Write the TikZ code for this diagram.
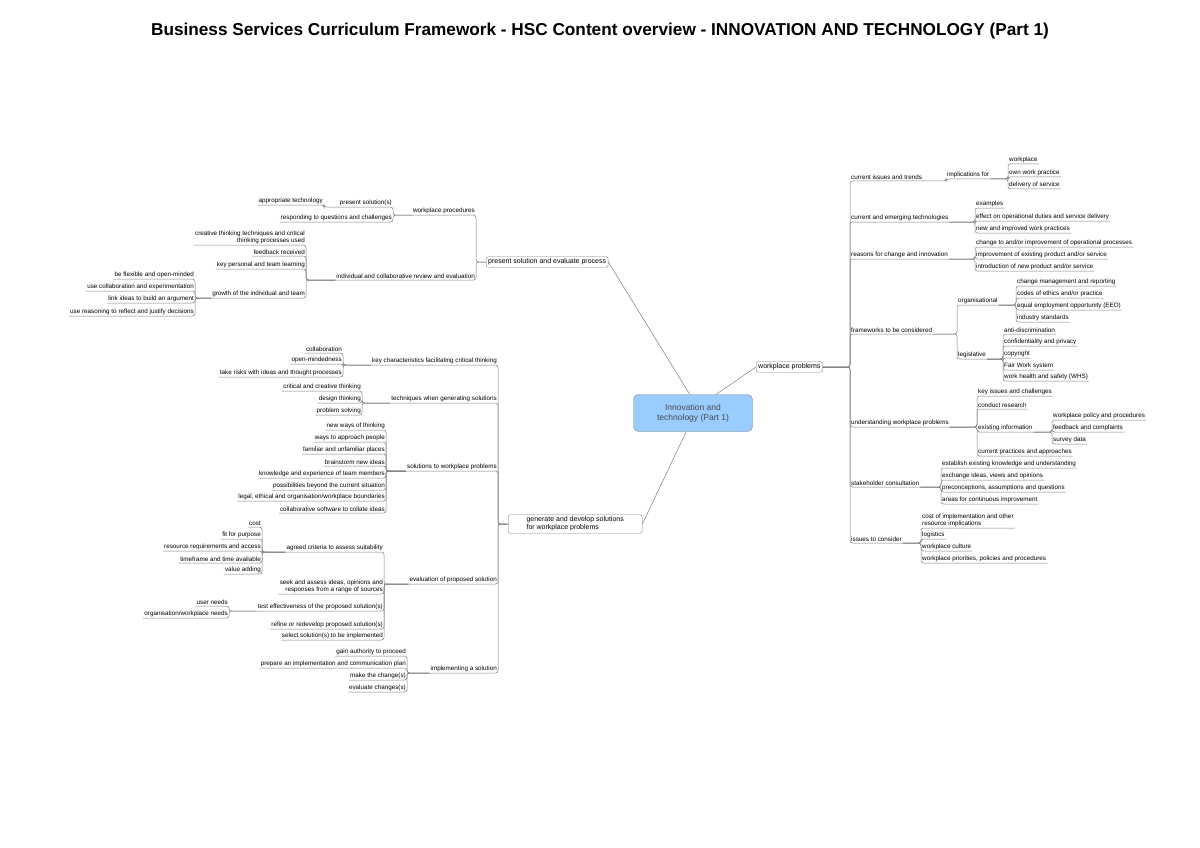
\documentclass[tikz,border=0pt]{standalone}
\usepackage{fontspec}
\setmainfont{Liberation Sans}
\begin{document}
\begin{tikzpicture}[x=1pt,y=-1pt,
    leafL/.style={anchor=south east,inner sep=1pt,font=\fontsize{6.3}{7}\selectfont,align=right},
    leafR/.style={anchor=south west,inner sep=1pt,font=\fontsize{6.3}{7}\selectfont,align=left},
    branch/.style={draw=gray,rounded corners=2pt,fill=white,inner sep=2pt,font=\fontsize{7}{8}\selectfont,align=left},
    link/.style={draw=gray,line width=0.5pt,rounded corners=2.5pt}]
\newcommand\lnL[2]{\draw[link] (#1.south west) -- (#1.south east) |- (#2);}
\newcommand\lnR[2]{\draw[link] (#1.south east) -- (#1.south west) |- (#2);}
\path[use as bounding box] (0,0) rectangle (1200,848);

% title
\node[font=\bfseries\fontsize{17.2}{19}\selectfont] (title) at (600,31) {Business Services Curriculum Framework - HSC Content overview - INNOVATION AND TECHNOLOGY (Part 1)};

% centre and branches
\node[draw=gray,fill={rgb,255:red,153;green,204;blue,255},rounded corners=5pt,minimum width=119pt,minimum height=37pt,align=center,text=black!70,font=\fontsize{8.5}{10}\selectfont] (cen) at (693,413) {Innovation and\\technology (Part 1)};
\node[branch,anchor=west] (pres) at (486,262) {present solution and evaluate process};
\node[branch,anchor=west,minimum width=134pt] (gen) at (508,524) {generate and develop solutions\\for workplace problems};
\node[branch,anchor=west] (wp) at (756,367) {workplace problems};
\draw[link] (pres.east) -- (cen.100);
\draw[link] (gen.east) -- (cen.250);
\draw[link] (wp.west) -- (cen.39);

% present solution and evaluate process
\node[leafL] (wproc) at (476,215) {workplace procedures};
\node[leafL] (indiv) at (476,280) {individual and collaborative review and evaluation};
\node[leafL] (psol) at (393,207) {present solution(s)};
\node[leafL] (resp) at (393,222) {responding to questions and challenges};
\node[leafL] (aptech) at (324,205) {appropriate technology};
\node[leafL] (creat) at (306,245) {creative thinking techniques and critical\\thinking processes used};
\node[leafL] (feedr) at (306,256) {feedback received};
\node[leafL] (keyp) at (306,269) {key personal and team learning};
\node[leafL] (growth) at (306,298) {growth of the individual and team};
\node[leafL] (flex) at (195,279) {be flexible and open-minded};
\node[leafL] (usecol) at (195,291) {use collaboration and experimentation};
\node[leafL] (linki) at (195,303) {link ideas to build an argument};
\node[leafL] (reason) at (195,316) {use reasoning to reflect and justify decisions};
\lnL{wproc}{pres.west} \lnL{indiv}{pres.west}
\lnL{psol}{wproc.south west} \lnL{resp}{wproc.south west}
\lnL{aptech}{psol.south west}
\lnL{creat}{indiv.south west} \lnL{feedr}{indiv.south west}
\lnL{keyp}{indiv.south west} \lnL{growth}{indiv.south west}
\lnL{flex}{growth.south west} \lnL{usecol}{growth.south west}
\lnL{linki}{growth.south west} \lnL{reason}{growth.south west}

% generate and develop solutions
\node[leafL] (keych) at (498,365) {key characteristics facilitating critical thinking};
\node[leafL] (techn) at (498,403) {techniques when generating solutions};
\node[leafL] (solut) at (498,471) {solutions to workplace problems};
\node[leafL] (evalp) at (498,584) {evaluation of proposed solution};
\node[leafL] (impl) at (498,673) {implementing a solution};
\foreach \n in {keych,techn,solut,evalp,impl} {\lnL{\n}{gen.west}}
\node[leafL] (collab) at (343,353) {collaboration};
\node[leafL] (openm) at (343,364) {open-mindedness};
\node[leafL] (risks) at (343,377) {take risks with ideas and thought processes};
\foreach \n in {collab,openm,risks} {\lnL{\n}{keych.south west}}
\node[leafL] (crit) at (362,391) {critical and creative thinking};
\node[leafL] (dsgn) at (362,403) {design thinking};
\node[leafL] (probl) at (362,415) {problem solving};
\foreach \n in {crit,dsgn,probl} {\lnL{\n}{techn.south west}}
\node[leafL] (neww) at (386,430) {new ways of thinking};
\node[leafL] (ways) at (386,442) {ways to approach people};
\node[leafL] (famil) at (386,454) {familiar and unfamiliar places};
\node[leafL] (brain) at (386,466) {brainstorm new ideas};
\node[leafL] (knowl) at (386,478) {knowledge and experience of team members};
\node[leafL] (possb) at (386,490) {possibilities beyond the current situation};
\node[leafL] (legal) at (386,501) {legal, ethical and organisation/workplace boundaries};
\node[leafL] (csoft) at (386,513) {collaborative software to collate ideas};
\foreach \n in {neww,ways,famil,brain,knowl,possb,legal,csoft} {\lnL{\n}{solut.south west}}
\node[leafL] (agreed) at (384,552) {agreed criteria to assess suitability};
\node[leafL] (seek) at (384,594) {seek and assess ideas, opinions and\\responses from a range of sources};
\node[leafL] (test) at (384,611) {test effectiveness of the proposed solution(s)};
\node[leafL] (refine) at (384,629) {refine or redevelop proposed solution(s)};
\node[leafL] (select) at (384,640) {select solution(s) to be implemented};
\foreach \n in {agreed,seek,test,refine,select} {\lnL{\n}{evalp.south west}}
\node[leafL] (cost) at (262,527) {cost};
\node[leafL] (fit) at (262,539) {fit for purpose};
\node[leafL] (resreq) at (262,551) {resource requirements and access};
\node[leafL] (timef) at (262,563) {timeframe and time available};
\node[leafL] (value) at (262,574) {value adding};
\foreach \n in {cost,fit,resreq,timef,value} {\lnL{\n}{agreed.south west}}
\node[leafL] (user) at (229,606) {user needs};
\node[leafL] (orgn) at (229,618) {organisation/workplace needs};
\foreach \n in {user,orgn} {\lnL{\n}{test.south west}}
\node[leafL] (gain) at (407,656) {gain authority to proceed};
\node[leafL] (prep) at (407,668) {prepare an implementation and communication plan};
\node[leafL] (make) at (407,680) {make the change(s)};
\node[leafL] (evalc) at (407,692) {evaluate changes(s)};
\foreach \n in {gain,prep,make,evalc} {\lnL{\n}{impl.south west}}

% workplace problems
\node[leafR] (cur) at (850,181) {current issues and trends};
\node[leafR] (curem) at (850,222) {current and emerging technologies};
\node[leafR] (reas) at (850,259) {reasons for change and innovation};
\node[leafR] (frame) at (850,334) {frameworks to be considered};
\node[leafR] (under) at (850,427) {understanding workplace problems};
\node[leafR] (stake) at (850,487) {stakeholder consultation};
\node[leafR] (issues) at (850,543) {issues to consider};
\foreach \n in {cur,curem,reas,frame,under,stake,issues} {\lnR{\n}{wp.east}}
\node[leafR] (implf) at (946,179) {implications for};
\lnR{implf}{cur.south east}
\node[leafR] (wplace) at (1008,164) {workplace};
\node[leafR] (ownw) at (1008,177) {own work practice};
\node[leafR] (deliv) at (1008,189) {delivery of service};
\foreach \n in {wplace,ownw,deliv} {\lnR{\n}{implf.south east}}
\node[leafR] (exmp) at (975,208) {examples};
\node[leafR] (effect) at (975,221) {effect on operational duties and service delivery};
\node[leafR] (newimp) at (975,233) {new and improved work practices};
\foreach \n in {exmp,effect,newimp} {\lnR{\n}{curem.south east}}
\node[leafR] (chng) at (975,247) {change to and/or improvement of operational processes};
\node[leafR] (impex) at (975,259) {improvement of existing product and/or service};
\node[leafR] (intro) at (975,271) {introduction of new product and/or service};
\foreach \n in {chng,impex,intro} {\lnR{\n}{reas.south east}}
\node[leafR] (orgl) at (957,305) {organisational};
\node[leafR] (legis) at (957,359) {legislative};
\foreach \n in {orgl,legis} {\lnR{\n}{frame.south east}}
\node[leafR] (cmgmt) at (1016,286) {change management and reporting};
\node[leafR] (codes) at (1016,298) {codes of ethics and/or practice};
\node[leafR] (eeo) at (1016,310) {equal employment opportunity (EEO)};
\node[leafR] (indst) at (1016,322) {industry standards};
\foreach \n in {cmgmt,codes,eeo,indst} {\lnR{\n}{orgl.south east}}
\node[leafR] (anti) at (1003,334) {anti-discrimination};
\node[leafR] (conf) at (1003,346) {confidentiality and privacy};
\node[leafR] (copy) at (1003,358) {copyright};
\node[leafR] (fair) at (1003,370) {Fair Work system};
\node[leafR] (whs) at (1003,381) {work health and safety (WHS)};
\foreach \n in {anti,conf,copy,fair,whs} {\lnR{\n}{legis.south east}}
\node[leafR] (keyi) at (977,396) {key issues and challenges};
\node[leafR] (cond) at (977,409) {conduct research};
\node[leafR] (exist) at (977,432) {existing information};
\node[leafR] (currp) at (977,456) {current practices and approaches};
\foreach \n in {keyi,cond,exist,currp} {\lnR{\n}{under.south east}}
\node[leafR] (wpol) at (1052,420) {workplace policy and procedures};
\node[leafR] (fcomp) at (1052,432) {feedback and complaints};
\node[leafR] (surv) at (1052,444) {survey data};
\foreach \n in {wpol,fcomp,surv} {\lnR{\n}{exist.south east}}
\node[leafR] (estab) at (941,468) {establish existing knowledge and understanding};
\node[leafR] (exch) at (941,480) {exchange ideas, views and opinions};
\node[leafR] (precon) at (941,492) {preconceptions, assumptions and questions};
\node[leafR] (areas) at (941,504) {areas for continuous improvement};
\foreach \n in {estab,exch,precon,areas} {\lnR{\n}{stake.south east}}
\node[leafR] (costi) at (921,528) {cost of implementation and other\\resource implications};
\node[leafR] (logis) at (921,539) {logistics};
\node[leafR] (cult) at (921,551) {workplace culture};
\node[leafR] (prio) at (921,563) {workplace priorities, policies and procedures};
\foreach \n in {costi,logis,cult,prio} {\lnR{\n}{issues.south east}}
\end{tikzpicture}
\end{document}
